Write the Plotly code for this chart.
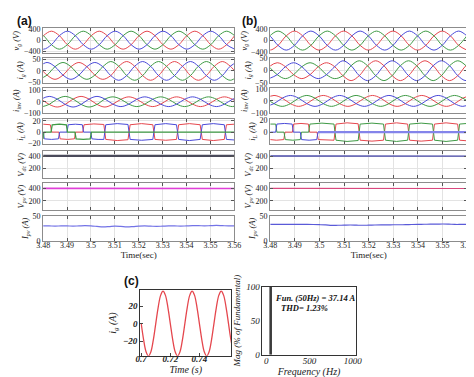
import plotly.graph_objects as go

# ---------------------------------------------------------------- data
T_RANGE = [3.48, 3.56]
TIME_TICKS = [3.48, 3.49, 3.50, 3.51, 3.52, 3.53, 3.54, 3.55, 3.56]
TIME_TICK_TEXT = ['3.48', '3.49', '3.5', '3.51', '3.52', '3.53', '3.54', '3.55', '3.56']
SINE_DT = 0.02 / 6          # spacing of the read-off samples (60 deg of a 50 Hz cycle)

# ----- panel (a)
VG_A_T0 = 3.4768
VG_A_RED = [-160, 160, 320, 160, -160, -320, -160, 160, 320, 160, -160, -320, -160, 160, 320, 160, -160, -320,
            -160, 160, 320, 160, -160, -320, -160, 160]
VG_A_BLUE = [-160, -320, -160, 160, 320, 160, -160, -320, -160, 160, 320, 160, -160, -320, -160, 160, 320, 160,
             -160, -320, -160, 160, 320, 160, -160, -320]
VG_A_GREEN = [320, 160, -160, -320, -160, 160, 320, 160, -160, -320, -160, 160, 320, 160, -160, -320, -160, 160,
              320, 160, -160, -320, -160, 160, 320, 160]

IG_A_T0 = 3.4783
IG_A_BLUE = [18, 36, 18, -18, -36, -18, 18, 36, 18, -20, -40, -20, 20, 40, 20, -20, -40, -20, 20, 40, 20, -20, -40, -20, 20, 40]
IG_A_GREEN = [-36, -18, 18, 36, 18, -18, -36, -18, 18, 40, 20, -20, -40, -20, 20, 40, 20, -20, -40, -20, 20, 40, 20, -20, -40, -20]
IG_A_RED = [18, -18, -36, -18, 18, 36, 18, -18, -36, -20, 20, 40, 20, -20, -40, -20, 20, 40, 20, -20, -40, -20, 20, 40, 20, -20]

II_A_T0 = 3.4792
II_A_BLUE = [24, 48, 24, -24, -48, -24, 24, 48, 24, -22, -44, -22, 22, 44, 22, -22, -44, -22, 22, 44, 22, -22, -44, -22, 22, 44]
II_A_GREEN = [-48, -24, 24, 48, 24, -24, -48, -24, 24, 44, 22, -22, -44, -22, 22, 44, 22, -22, -44, -22, 22, 44, 22, -22, -44, -22]
II_A_RED = [24, -24, -48, -24, 24, 48, 24, -24, -48, -22, 22, 44, 22, -22, -44, -22, 22, 44, 22, -22, -44, -22, 22, 44, 22, -22]

IL_A_RED_T = [3.4800, 3.4830, 3.4836, 3.4866, 3.4871, 3.4902, 3.4931, 3.4936, 3.4966, 3.4971, 3.5012, 3.5054, 3.5062,
              3.5110, 3.5155, 3.5164, 3.5212, 3.5259, 3.5268, 3.5313, 3.5358, 3.5367, 3.5412, 3.5457, 3.5466, 3.5512,
              3.5558, 3.5567, 3.5600]
IL_A_RED_V = [14, 13, 0, 0, -12, -13, -12, 0, 0, 13, 14.5, 13.5, -13, -15, -13.5, 13, 15, 13, -13, -14.5, -13, 13, 15, 13,
              -13, -15, -13, 13, 14]
IL_A_BLUE_T = [3.4800, 3.4805, 3.4835, 3.4864, 3.4869, 3.4900, 3.4905, 3.4935, 3.4964, 3.4969, 3.4999, 3.5004, 3.5030,
               3.5054, 3.5062, 3.5110, 3.5155, 3.5164, 3.5212, 3.5259, 3.5268, 3.5313, 3.5358, 3.5367, 3.5412, 3.5457,
               3.5466, 3.5512, 3.5558, 3.5567, 3.5600]
IL_A_BLUE_V = [0, -12, -13, -12, 0, 0, 13, 14, 13, 0, 0, -12, -13, -13, 13, 15, 13.5, -13, -14.5, -13, 13, 15, 13, -13,
               -15, -13, 13, 15, 13, -13, -14]
IL_A_GREEN_T = [3.4800, 3.4803, 3.4833, 3.4838, 3.4868, 3.4897, 3.4902, 3.4933, 3.4938, 3.4968, 3.4997, 3.5002, 3.5600]
IL_A_GREEN_V = [-12, 0, 0, 13, 14, 13, 0, 0, -12, -13, -12, 0, 0]

SLOW_T = [3.48, 3.50, 3.52, 3.54, 3.56]
VDC_A = [405, 405, 404, 405, 405]
VPV_A = [402, 401, 400, 401, 401]
IPV_DT = 0.0025
IPV_A = [30, 30, 29.5, 30, 30, 29.5, 30, 30.5, 30, 29, 28, 28.5, 29.5, 29, 28, 28.5, 29.5, 30, 29.5, 29, 29.5, 30,
         30, 29.5, 30, 30.5, 30.5, 30, 30.5, 31, 30.5, 30, 30]

# ----- panel (b)
VG_B_T0 = 3.4765
VG_B_GREEN = [-160, 160, 320, 160, -160, -320, -160, 160, 320, 160, -160, -320, -160, 160, 320, 160, -160, -320,
              -160, 160, 320, 160, -160, -320, -160, 160]
VG_B_RED = [-160, -320, -160, 160, 320, 160, -160, -320, -160, 160, 320, 160, -160, -320, -160, 160, 320, 160,
            -160, -320, -160, 160, 320, 160, -160, -320]
VG_B_BLUE = [320, 160, -160, -320, -160, 160, 320, 160, -160, -320, -160, 160, 320, 160, -160, -320, -160, 160,
             320, 160, -160, -320, -160, 160, 320, 160]

IG_B_T0 = 3.4795
IG_B_RED = [16, 32, 16, -16, -32, -16, 16, 32, 16, -20, -40, -20, 20, 40, 20, -20, -40, -20, 20, 40, 20, -20, -40, -20, 20, 40]
IG_B_BLUE = [-32, -16, 16, 32, 16, -16, -32, -16, 16, 40, 20, -20, -40, -20, 20, 40, 20, -20, -40, -20, 20, 40, 20, -20, -40, -20]
IG_B_GREEN = [16, -16, -32, -16, 16, 32, 16, -16, -32, -20, 20, 40, 20, -20, -40, -20, 20, 40, 20, -20, -40, -20, 20, 40, 20, -20]

II_B_T0 = 3.4782
II_B_RED = [23, 46, 23, -23, -46, -23, 23, 46, 23, -23, -46, -23, 23, 46, 23, -23, -46, -23, 23, 46, 23, -23, -46, -23, 23, 46]
II_B_BLUE = [-46, -23, 23, 46, 23, -23, -46, -23, 23, 46, 23, -23, -46, -23, 23, 46, 23, -23, -46, -23, 23, 46, 23, -23, -46, -23]
II_B_GREEN = [23, -23, -46, -23, 23, 46, 23, -23, -46, -23, 23, 46, 23, -23, -46, -23, 23, 46, 23, -23, -46, -23, 23, 46, 23, -23]

IL_B_RED_T = [3.4800, 3.4825, 3.4855, 3.4860, 3.4890, 3.4895, 3.4925, 3.4955, 3.4960, 3.4990, 3.4995, 3.5030, 3.5059,
              3.5067, 3.5112, 3.5157, 3.5165, 3.5213, 3.5260, 3.5268, 3.5313, 3.5358, 3.5366, 3.5413, 3.5459, 3.5467,
              3.5514, 3.5561, 3.5569, 3.5600]
IL_B_RED_V = [-12, -13, -12, 0, 0, 13, 14, 13, 0, 0, -12, -13, -13, 13, 15, 13.5, -13, -14.5, -13, 13, 15, 13, -13, -14.5,
              -13, 13, 15, 13, -13, -14]
IL_B_GREEN_T = [3.4800, 3.4822, 3.4827, 3.4856, 3.4861, 3.4892, 3.4922, 3.4927, 3.4956, 3.4961, 3.5010, 3.5059, 3.5067,
                3.5112, 3.5157, 3.5165, 3.5213, 3.5260, 3.5268, 3.5313, 3.5358, 3.5366, 3.5413, 3.5459, 3.5467, 3.5514,
                3.5561, 3.5569, 3.5600]
IL_B_GREEN_V = [13, 13, 0, 0, -12, -13, -12, 0, 0, 13, 14.5, 13, -13, -15, -13.5, 13, 14.5, 13, -13, -15, -13, 13, 14.5, 13,
                -13, -15, -13, 13, 14]
IL_B_BLUE_T = [3.4800, 3.4822, 3.4827, 3.4858, 3.4889, 3.4894, 3.4922, 3.4927, 3.4958, 3.4989, 3.4994, 3.5600]
IL_B_BLUE_V = [0, 0, 13, 14, 13, 0, 0, -12, -13, -12, 0, 0]

VDC_B = [403, 402, 401, 402, 402]
VPV_B = [402, 402, 401, 398, 400]
IPV_B = [33, 33, 33, 33, 33, 33, 33, 32.8, 32.5, 32, 31, 31.2, 31.5, 31.8, 31.5, 31.2, 31.5, 31.8, 32, 32, 32.2, 32.3,
         32.5, 32.8, 33, 33.2, 33.5, 33.5, 33.8, 33.5, 33, 33, 33]

# ----- panel (c)
IG_C_T0 = 0.70
IG_C_DT = 0.02 / 12
IG_C = [0, -18.57, -32.16, -37.14, -32.16, -18.57, 0, 18.57, 32.16, 37.14, 32.16, 18.57,
        0, -18.57, -32.16, -37.14, -32.16, -18.57, 0, 18.57, 32.16, 37.14, 32.16, 18.57,
        0, -18.57, -32.16, -37.14, -32.16, -18.57, 0, 18.57, 32.16, 37.14, 32.16, 18.57,
        0, -18.57, -32.16]
FFT_FREQ = [50]
FFT_MAG = [100]
FUND_TEXT = 'Fun. (50Hz) = 37.14 A'
THD_TEXT = 'THD= 1.23%'

# ---------------------------------------------------------------- style / layout
W, H = 474, 377
RED, GREEN, BLUE = '#e5474e', '#3f9a45', '#4a4ad8'
GRID, FRAME = '#e3e3e3', '#8c8c8c'
SERIF = 'Liberation Serif'
ROWS = [(15.5, 41.5), (46, 72), (77.5, 102.5), (109, 134.5), (142, 170), (175, 202), (208.5, 234)]
PANEL_X = {'a': (29, 226), 'b': (263, 466)}
Y_TITLES = ['<i>v</i><sub><i>g</i></sub><i> (V)</i>', '<i>i</i><sub><i>g</i></sub><i> (A)</i>',
            '<i>i</i><sub><i>inv</i></sub><i> (A)</i>', '<i>i</i><sub><i>L</i></sub><i> (A)</i>',
            '<i>V</i><sub><i>dc</i></sub><i> (V)</i>', '<i>V</i><sub><i>pv</i></sub><i> (V)</i>',
            '<i>I</i><sub><i>pv</i></sub><i> (A)</i>']
Y_RANGES = {'a': [[-470, 430], [-52, 56], [-100, 120], [-21, 23], [40, 480], [58, 483], [0, 50]],
            'b': [[-430, 420], [-50, 52], [-100, 105], [-19, 21], [40, 480], [58, 483], [0, 50]]}
Y_TICKS = [[-400, 0, 400], [-50, 0, 50], [-100, 0, 100], [-20, 0, 20], [200, 400], [200, 400], [0, 50]]


def dom_x(l, r):
    return [l / W, r / W]


def dom_y(t, b):
    return [1 - b / H, 1 - t / H]


def ref(n):
    return '' if n == 1 else str(n)


fig = go.Figure()


def line(n, y, color, width=1.0, x=None, x0=None, dx=None, shape='linear'):
    kw = dict(y=y, mode='lines', line=dict(color=color, width=width, shape=shape),
              xaxis='x' + ref(n), yaxis='y' + ref(n), showlegend=False, hoverinfo='skip')
    if x is not None:
        kw['x'] = x
    else:
        kw['x0'] = x0
        kw['dx'] = dx
    fig.add_trace(go.Scatter(**kw))


# panel (a) traces: axes 1..7
for vals, c in [(VG_A_RED, RED), (VG_A_GREEN, GREEN), (VG_A_BLUE, BLUE)]:
    line(1, vals, c, x0=VG_A_T0, dx=SINE_DT, shape='spline')
for vals, c in [(IG_A_RED, RED), (IG_A_GREEN, GREEN), (IG_A_BLUE, BLUE)]:
    line(2, vals, c, x0=IG_A_T0, dx=SINE_DT, shape='spline')
for vals, c in [(II_A_RED, RED), (II_A_GREEN, GREEN), (II_A_BLUE, BLUE)]:
    line(3, vals, c, x0=II_A_T0, dx=SINE_DT, shape='spline')
line(4, IL_A_RED_V, RED, x=IL_A_RED_T)
line(4, IL_A_BLUE_V, BLUE, x=IL_A_BLUE_T)
line(4, IL_A_GREEN_V, GREEN, x=IL_A_GREEN_T, width=1.3)
line(5, VDC_A, '#4a4a5a', width=2.2, x=SLOW_T)
line(6, VPV_A, '#e040d8', width=1.6, x=SLOW_T)
line(7, IPV_A, '#7373e6', width=1.2, x0=T_RANGE[0], dx=IPV_DT, shape='spline')

# panel (b) traces: axes 8..14
for vals, c in [(VG_B_RED, RED), (VG_B_GREEN, GREEN), (VG_B_BLUE, BLUE)]:
    line(8, vals, c, x0=VG_B_T0, dx=SINE_DT, shape='spline')
for vals, c in [(IG_B_RED, RED), (IG_B_GREEN, GREEN), (IG_B_BLUE, BLUE)]:
    line(9, vals, c, x0=IG_B_T0, dx=SINE_DT, shape='spline')
for vals, c in [(II_B_RED, RED), (II_B_GREEN, GREEN), (II_B_BLUE, BLUE)]:
    line(10, vals, c, x0=II_B_T0, dx=SINE_DT, shape='spline')
line(11, IL_B_RED_V, RED, x=IL_B_RED_T)
line(11, IL_B_GREEN_V, GREEN, x=IL_B_GREEN_T)
line(11, IL_B_BLUE_V, BLUE, x=IL_B_BLUE_T)
line(11, IL_B_BLUE_V[-2:], '#8484ea', x=IL_B_BLUE_T[-2:], width=2.4)   # flat, idle phase
line(12, VDC_B, '#4848a8', width=1.3, x=SLOW_T)
line(13, VPV_B, '#d9487e', width=1.1, x=SLOW_T)
line(14, IPV_B, '#5a5ad8', width=1.1, x0=T_RANGE[0], dx=IPV_DT, shape='spline')

# panel (c)
line(15, IG_C, '#e5474e', width=1.3, x0=IG_C_T0, dx=IG_C_DT, shape='spline')
fig.add_trace(go.Bar(x=FFT_FREQ, y=FFT_MAG, width=[30], marker=dict(color='#3c3c3c', line=dict(width=0)),
                     xaxis='x16', yaxis='y16', showlegend=False, hoverinfo='skip'))

layout = dict(width=W, height=H, margin=dict(l=0, r=0, t=0, b=0), paper_bgcolor='white',
              plot_bgcolor='white', showlegend=False, annotations=[])

tick_font = dict(family=SERIF, size=8, color='#222222')
title_font = dict(family=SERIF, size=9, color='#222222')

for p, (xl, xr) in PANEL_X.items():
    for i, (top, bot) in enumerate(ROWS):
        n = i + 1 + (0 if p == 'a' else 7)
        last = i == len(ROWS) - 1
        xa = dict(domain=dom_x(xl, xr), range=T_RANGE, anchor='y' + ref(n), tickmode='array',
                  tickvals=TIME_TICKS, ticktext=TIME_TICK_TEXT, showticklabels=last, ticks='inside', ticklen=3,
                  tickcolor='#555555', showline=True, linecolor=FRAME, linewidth=1.2, mirror='ticks',
                  showgrid=True, gridcolor=GRID, gridwidth=0.8, zeroline=False, tickfont=tick_font,
                  ticklabelstandoff=-3)
        if last:
            xa['title'] = dict(text='Time(sec)', font=title_font, standoff=0)
        ya = dict(domain=dom_y(top, bot), range=Y_RANGES[p][i], anchor='x' + ref(n), tickmode='array',
                  tickvals=Y_TICKS[i], ticks='inside', ticklen=3, tickcolor='#555555', showline=True,
                  linecolor=FRAME, linewidth=1.2, mirror='ticks', showgrid=True, gridcolor=GRID,
                  gridwidth=0.8, zeroline=False, tickfont=tick_font,
                  title=dict(text=Y_TITLES[i], font=dict(family=SERIF, size=8.5, color='#222222'), standoff=2))
        layout['xaxis' + ref(n)] = xa
        layout['yaxis' + ref(n)] = ya

it_font = dict(family=SERIF, size=9, color='#222222', style='italic', weight='bold')
it_title = dict(family=SERIF, size=10, color='#222222', style='italic')

layout['xaxis15'] = dict(domain=dom_x(129, 223), range=[0.6993, 0.762], anchor='y15', tickmode='array',
                         tickvals=[0.7, 0.72, 0.74], ticktext=['0.7', '0.72', '0.74'], ticks='inside', ticklen=3,
                         showline=True, linecolor='#333333', linewidth=1, mirror=True, showgrid=False,
                         zeroline=False, tickfont=it_font, ticklabelstandoff=-5,
                         title=dict(text='Time (s)', font=it_title, standoff=0))
layout['yaxis15'] = dict(domain=dom_y(285, 352), range=[-36.7, 37.8], anchor='x15', tickmode='array',
                         tickvals=[-20, 0, 20], ticks='inside', ticklen=3, showline=True, linecolor='#333333',
                         linewidth=1, mirror=True, showgrid=False, zeroline=False, tickfont=it_font,
                         title=dict(text='<i>i</i><sub><i>g</i></sub><i> (A)</i>', font=it_title, standoff=4))
layout['xaxis16'] = dict(domain=dom_x(255, 351), range=[-45, 1034], anchor='y16', tickmode='array',
                         tickvals=[0, 500, 1000], ticks='', showline=True, linecolor='#333333', linewidth=1,
                         mirror=True, showgrid=False, zeroline=False, ticklabelstandoff=-2,
                         tickfont=dict(family=SERIF, size=9, color='#222222', style='italic'),
                         title=dict(text='Frequency (Hz)', font=it_title, standoff=0))
layout['yaxis16'] = dict(domain=dom_y(281, 351), range=[0, 100], anchor='x16', tickmode='array',
                         tickvals=[0, 50, 100], ticks='', showline=True, linecolor='#333333', linewidth=1,
                         mirror=True, showgrid=False, zeroline=False,
                         tickfont=dict(family=SERIF, size=9, color='#222222', style='italic'),
                         title=dict(text='Mag (% of Fundamental)', font=dict(family=SERIF, size=9,
                                    color='#222222', style='italic'), standoff=4))

anns = layout['annotations']
anns.append(dict(text=FUND_TEXT, x=72, y=83, xref='x16', yref='y16', xanchor='left', yanchor='middle',
                 showarrow=False, font=dict(family=SERIF, size=8.5, color='#111111', style='italic', weight='bold')))
anns.append(dict(text=THD_TEXT, x=150, y=69, xref='x16', yref='y16', xanchor='left', yanchor='middle',
                 showarrow=False, font=dict(family=SERIF, size=8.5, color='#111111', style='italic', weight='bold')))
for lab, px, py in [('(a)', 0, 8), ('(b)', 232, 8), ('(c)', 110, 275)]:
    anns.append(dict(text='<b>' + lab + '</b>', x=px / W, y=1 - py / H, xref='paper', yref='paper',
                     xanchor='left', yanchor='middle', showarrow=False,
                     font=dict(family='Liberation Sans', size=12, color='#111111')))

fig.update_layout(**layout)
fig.write_html('out.html')
